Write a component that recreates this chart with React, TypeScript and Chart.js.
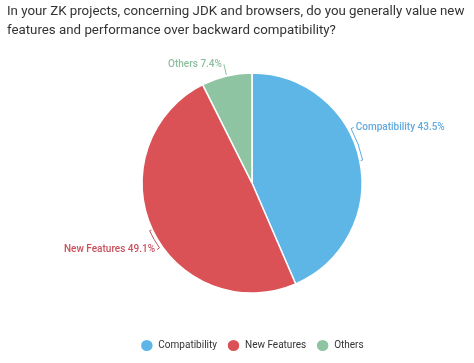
import React, { useEffect, useRef } from "react";
import { Chart, registerables } from "chart.js";

Chart.register(...registerables);

const titleLines = [
  "In your ZK projects, concerning JDK and browsers, do you generally value new",
  "features and performance over backward compatibility?",
];
const categories = ["Compatibility", "New Features", "Others"];
const values = [43.5, 49.1, 7.4];
const sliceColors = ["#5DB6E5", "#DA5256", "#8EC4A2"];
const labelColors = ["#62A9DD", "#C9525C", "#8DBF9F"];

// label layout: angular shift (deg) from mid-angle and distance beyond the rim
const labelLayout = [
  { shift: -17, dist: 6 },
  { shift: -10, dist: 6 },
  { shift: 0, dist: 12 },
];

const titlePlugin = {
  id: "customTitle",
  afterDraw(chart: any) {
    const ctx = chart.ctx;
    ctx.save();
    ctx.font = "13.3px Roboto";
    ctx.fillStyle = "#333333";
    ctx.textAlign = "left";
    ctx.textBaseline = "alphabetic";
    titleLines.forEach((line, i) => {
      ctx.fillText(line, 7, 15 + i * 19);
    });
    ctx.restore();
  },
};

const pieLabels = {
  id: "pieLabels",
  afterDatasetsDraw(chart: any) {
    const meta = chart.getDatasetMeta(0);
    const ctx = chart.ctx;
    const data = chart.data.datasets[0].data;
    meta.data.forEach((arc: any, i: number) => {
      const { x, y, startAngle, endAngle, outerRadius } = arc.getProps(
        ["x", "y", "startAngle", "endAngle", "outerRadius"],
        true
      );
      const mid = (startAngle + endAngle) / 2;
      const lay = labelLayout[i];
      const la = mid + (lay.shift * Math.PI) / 180;
      const r1 = outerRadius + 1;
      const r2 = outerRadius + 3;
      const r3 = outerRadius + lay.dist;
      ctx.save();
      ctx.strokeStyle = labelColors[i];
      ctx.lineWidth = 1;
      ctx.beginPath();
      ctx.moveTo(x + Math.cos(mid) * r1, y + Math.sin(mid) * r1);
      ctx.lineTo(x + Math.cos(mid) * r2, y + Math.sin(mid) * r2);
      if (lay.shift !== 0) ctx.arc(x, y, r2, mid, la, lay.shift < 0);
      const ax = x + Math.cos(la) * r3;
      const ay = y + Math.sin(la) * r3;
      ctx.lineTo(ax, ay);
      ctx.stroke();
      const right = Math.cos(la) >= 0;
      ctx.font = "500 10px Roboto";
      ctx.fillStyle = labelColors[i];
      ctx.textAlign = right ? "left" : "right";
      ctx.textBaseline = "middle";
      ctx.fillText(
        `${chart.data.labels[i]} ${data[i]}%`,
        ax + (right ? 2 : -2),
        ay
      );
      ctx.restore();
    });
  },
};

export default function App() {
  const ref = useRef<HTMLCanvasElement>(null);
  useEffect(() => {
    if (!ref.current) return;
    const chart = new Chart(ref.current, {
      type: "pie",
      data: {
        labels: categories,
        datasets: [
          {
            data: values,
            backgroundColor: sliceColors,
            borderColor: "#ffffff",
            borderWidth: 1.5,
            radius: 110,
          },
        ],
      },
      options: {
        responsive: false,
        animation: false,
        layout: { padding: { top: 35.5, bottom: 2.5, left: 30, right: 0 } },
        plugins: {
          title: { display: false },
          tooltip: { enabled: false },
          legend: {
            position: "bottom",
            labels: {
              usePointStyle: true,
              pointStyle: "circle",
              pointStyleWidth: 13,
              boxHeight: 9,
              padding: 10,
              color: "#333333",
              font: { family: "Roboto", size: 10 },
            },
          },
        },
      },
      plugins: [titlePlugin, pieLabels],
    });
    return () => chart.destroy();
  }, []);
  return (
    <div style={{ position: "fixed", left: 0, top: 0, width: 474, height: 363, background: "#fff" }}>
      <canvas ref={ref} width={474} height={363} style={{ width: 474, height: 363 }} />
    </div>
  );
}
